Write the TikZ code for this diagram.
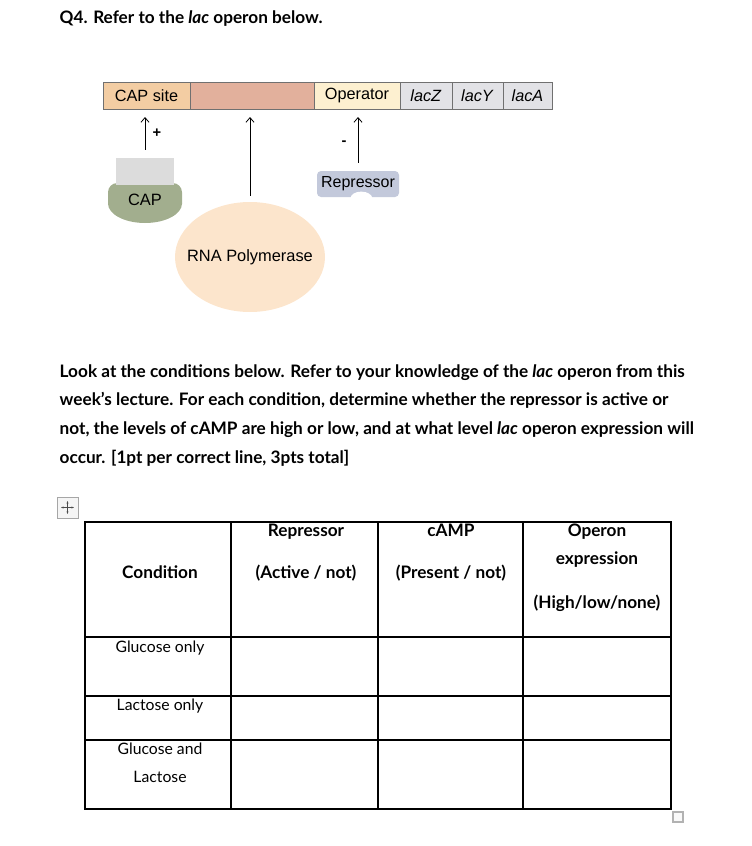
\documentclass[tikz,border=0pt]{standalone}
\usepackage{fontspec}
\setmainfont{Lato}
\newfontfamily\arialfont{Liberation Sans}
\usetikzlibrary{positioning, arrows.meta, shapes.geometric}
\definecolor{capsite}{HTML}{F3CDA3}
\definecolor{promoter}{HTML}{E2B09C}
\definecolor{operator}{HTML}{FDF0D0}
\definecolor{gene}{HTML}{E2E2E6}
\definecolor{barline}{HTML}{707070}
\definecolor{capgray}{HTML}{DCDCDC}
\definecolor{capgreen}{HTML}{A2AE8E}
\definecolor{repgray}{HTML}{C3C9DB}
\definecolor{rnap}{HTML}{FCE5CC}
\tikzset{
    x=0.75pt, y=-0.75pt, % one unit is one pixel of the page
    seg/.style={draw=barline, line width=0.6pt, minimum height=20.25pt, inner sep=0pt, outer sep=0pt,
        font=\arialfont\fontsize{12.2}{13}\selectfont}, % a piece of the operon bar
    arr/.style={-{Straight Barb[length=3.5pt, width=6pt]}, line width=0.6pt}, % the arrows up to the bar
    bio/.style={inner sep=0pt, font=\arialfont\fontsize{12.3}{13}\selectfont},
    sign/.style={font=\arialfont\bfseries\fontsize{11}{12}\selectfont},
    bodytext/.style={font=\bfseries\fontsize{12.9}{21.6}\selectfont},
    head/.style={font=\bfseries\fontsize{12.9}{14}\selectfont, anchor=base},
    cell/.style={font=\fontsize{11.8}{13}\selectfont, anchor=base},
    tablerule/.style={line width=1.5pt},
}
\begin{document}
\begin{tikzpicture}
    \useasboundingbox (0,0) rectangle (752,846);
    \node[bodytext, anchor=base west] (title) at (55,23) {Q4. Refer to the \textit{lac} operon below.};

    % the operon
    \node[seg, fill=capsite, minimum width=65.25pt, anchor=west] (capsite) at (103,95.5) {CAP site};
    \node[seg, fill=promoter, minimum width=93pt, right=0pt of capsite] (promoter) {};
    \node[seg, fill=operator, minimum width=64.5pt, right=0pt of promoter] (operator) {Operator};
    \node[seg, fill=gene, minimum width=39pt, right=0pt of operator] (lacz) {\textit{lacZ}};
    \node[seg, fill=gene, minimum width=38.25pt, right=0pt of lacz] (lacy) {\textit{lacY}};
    \node[seg, fill=gene, minimum width=36.75pt, right=0pt of lacy] (laca) {\textit{lacA}};

    % CAP
    \fill[capgreen, rounded corners=7pt] (108,204) |- (182,183) -- (182,204);
    \fill[capgreen] (108,203.5) arc[start angle=180, end angle=0, x radius=37, y radius=19.5];
    \node[fill=capgray, minimum width=43.5pt, minimum height=20.25pt, inner sep=0pt] (capbox) at (145,171.5) {};
    \node[bio] (cap) at (145,200) {CAP};

    % RNA polymerase
    \node[bio, ellipse, fill=rnap, inner xsep=-12pt, minimum width=112.5pt, minimum height=82.5pt] (rnapol) at (250,257) {RNA Polymerase};

    % repressor
    \node[bio, fill=repgray, rounded corners=3pt, minimum width=61.5pt, minimum height=19.5pt] (rep) at (358,184) {\fontsize{12}{13}\selectfont Repressor};
    \fill[white] ([xshift=2.5pt, yshift=-1pt]rep.south) ellipse[x radius=11, y radius=7];

    \draw[arr, shorten <=6pt, shorten >=6pt] (capbox.north) -- (capbox.north |- capsite.south)
        node[pos=0.5, right=2pt, sign] (plus) {+};
    \draw[arr, shorten <=4.5pt, shorten >=6pt] (rnapol.north) -- (rnapol.north |- promoter.south);
    \draw[arr, shorten <=6pt, shorten >=6pt] (rep.north) -- (rep.north |- operator.south)
        node[pos=0.45, left=5pt, sign] (minus) {-};

    % the question
    \node[bodytext, anchor=base west, align=left] (question) at (55,463.5) {%
        Look at the conditions below. Refer to your knowledge of the \textit{lac} operon from this\\
        week's lecture. For each condition, determine whether the repressor is active or\\
        not, the levels of cAMP are high or low, and at what level \textit{lac} operon expression will\\
        occur. [1pt per correct line, 3pts total]};

    % move handle of the table
    \draw[gray!70, fill=gray!8] (57,497) rectangle (78,518);
    \draw[{Stealth[length=2pt]}-{Stealth[length=2pt]}, gray!60!black, line width=0.6pt] (61,507.5) -- (74,507.5);
    \draw[{Stealth[length=2pt]}-{Stealth[length=2pt]}, gray!60!black, line width=0.6pt] (67.5,501) -- (67.5,514);

    % the table
    \draw[tablerule] (85,522) rectangle (671,809);
    \foreach \xcol in {231,378,523}
        \draw[tablerule] (\xcol,522) -- (\xcol,809);
    \foreach \yrow in {637,696,740}
        \draw[tablerule] (85,\yrow) -- (671,\yrow);

    \node[head] (hcond) at (160,578) {Condition};
    \node[head] (hrep) at (306,536) {Repressor};
    \node[head] (hrepb) at (306,578) {(Active / not)};
    \node[head] (hcamp) at (451,536) {cAMP};
    \node[head] (hcampb) at (451,578) {(Present / not)};
    \node[head] (hop) at (597,536) {Operon};
    \node[head] (hopb) at (597,564) {expression};
    \node[head] (hopc) at (597,608) {(High/low/none)};

    \node[cell] (glu) at (160,652) {Glucose only};
    \node[cell] (lac) at (160,710) {Lactose only};
    \node[cell] (both) at (160,754) {Glucose and};
    \node[cell] (bothb) at (160,782) {Lactose};

    \draw[gray!60, fill=gray!5, line width=1pt] (673,812) rectangle (683,822);
\end{tikzpicture}
\end{document}
